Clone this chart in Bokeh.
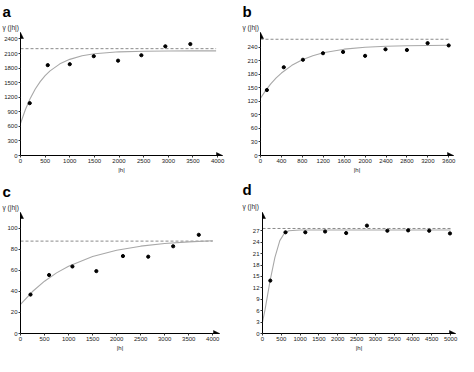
from bokeh.plotting import figure
from bokeh.layouts import column, row
from bokeh.models import Title, Arrow, NormalHead, FixedTicker
from bokeh.embed import file_html
from bokeh.resources import INLINE

# ---------------- data ----------------
# panel a
a_pts_x = [187, 553, 1000, 1487, 1980, 2453, 2940, 3447]
a_pts_y = [1078, 1861, 1880, 2045, 1953, 2065, 2249, 2295]
a_fit_x = [0, 100, 200, 300, 400, 500, 600, 800, 1000, 1250, 1500, 2000, 2500, 3000, 3500, 3970]
a_fit_y = [657, 947, 1181, 1369, 1521, 1644, 1743, 1887, 1980, 2053, 2095, 2135, 2148, 2152, 2155, 2155]
a_sill_x = [0, 3970]
a_sill_y = [2200, 2200]
a_xticks = [0, 500, 1000, 1500, 2000, 2500, 3000, 3500, 4000]
a_yticks = [0, 300, 600, 900, 1200, 1500, 1800, 2100, 2400]

# panel b
b_pts_x = [122, 445, 811, 1195, 1579, 2000, 2390, 2799, 3195, 3598]
b_pts_y = [145.3, 195.9, 212.5, 227.0, 229.9, 221.2, 235.7, 234.2, 249.4, 244.3]
b_fit_x = [0, 100, 200, 300, 400, 600, 800, 1000, 1200, 1600, 2000, 2400, 2800, 3200, 3600]
b_fit_y = [127, 144.6, 159.5, 172.2, 183.0, 200.1, 212.4, 221.4, 227.9, 236.0, 240.3, 242.5, 243.7, 244.3, 244.6]
b_sill_x = [0, 3600]
b_sill_y = [258, 258]
b_xticks = [0, 400, 800, 1200, 1600, 2000, 2400, 2800, 3200, 3600]
b_yticks = [0, 30, 60, 90, 120, 150, 180, 210, 240]

# panel c
c_pts_x = [208, 595, 1080, 1578, 2131, 2657, 3176, 3709]
c_pts_y = [37.0, 55.6, 63.7, 59.3, 73.6, 73.0, 82.9, 93.8]
c_fit_x = [0, 250, 500, 750, 1000, 1500, 2000, 2500, 3000, 3500, 4000]
c_fit_y = [27.6, 39.9, 49.7, 57.6, 64.0, 73.2, 79.2, 83.0, 85.5, 87.1, 88.1]
c_sill_x = [0, 4000]
c_sill_y = [87.8, 87.8]
c_xticks = [0, 500, 1000, 1500, 2000, 2500, 3000, 3500, 4000]
c_yticks = [0, 20, 40, 60, 80, 100]

# panel d
d_pts_x = [207, 612, 1138, 1664, 2224, 2776, 3319, 3871, 4431, 4983]
d_pts_y = [13.9, 26.6, 26.6, 26.8, 26.4, 28.35, 27.0, 27.1, 27.0, 26.3]
d_fit_x = [0, 70, 200, 330, 460, 590, 700, 1000, 2000, 3000, 4000, 5000]
d_fit_y = [3.0, 6.4, 13.8, 20.0, 24.4, 26.5, 27.0, 27.2, 27.2, 27.2, 27.2, 27.2]
d_sill_x = [0, 5000]
d_sill_y = [27.6, 27.6]
d_xticks = [0, 500, 1000, 1500, 2000, 2500, 3000, 3500, 4000, 4500, 5000]
d_yticks = [0, 3, 6, 9, 12, 15, 18, 21, 24, 27]

FONT = "Liberation Sans"


def panel(letter, px, py, fx, fy, sx, sy, xticks, yticks, xmax, ymax,
          width, height, bl, br, bt, bb, gamma_standoff, letter_standoff):
    p = figure(width=width, height=height, x_range=(0, xmax), y_range=(0, ymax),
               output_backend="svg", toolbar_location=None, title=None,
               min_border_left=bl, min_border_right=br,
               min_border_top=bt, min_border_bottom=bb)
    p.outline_line_color = None
    p.xgrid.visible = False
    p.ygrid.visible = False
    p.background_fill_color = "white"
    p.border_fill_color = "white"

    for ax in (p.xaxis[0], p.yaxis[0]):
        ax.axis_line_color = "black"
        ax.axis_line_width = 1
        ax.major_tick_line_color = "#333333"
        ax.major_tick_out = 2
        ax.major_tick_in = 0
        ax.minor_tick_line_color = None
        ax.major_label_text_font = FONT
        ax.major_label_text_font_size = "6px"
        ax.major_label_text_color = "#222222"
        ax.major_label_standoff = 1
    p.xaxis[0].ticker = FixedTicker(ticks=xticks)
    p.yaxis[0].ticker = FixedTicker(ticks=yticks)
    p.xaxis[0].axis_label = "|h|"
    p.xaxis[0].axis_label_text_font = FONT
    p.xaxis[0].axis_label_text_font_size = "6px"
    p.xaxis[0].axis_label_text_font_style = "normal"
    p.xaxis[0].axis_label_text_color = "#222222"
    p.xaxis[0].axis_label_standoff = 1

    # axis arrowheads
    p.add_layout(Arrow(end=NormalHead(size=6, fill_color="black", line_color="black", line_width=0.5),
                       x_start=xmax * 0.97, y_start=0, x_end=xmax, y_end=0,
                       line_color="black", line_width=1))
    p.add_layout(Arrow(end=NormalHead(size=6, fill_color="black", line_color="black", line_width=0.5),
                       x_start=0, y_start=ymax * 0.97, x_end=0, y_end=ymax,
                       line_color="black", line_width=1))

    # sill (dashed), fitted model (solid), experimental points
    p.line(sx, sy, line_color="#8a8a8a", line_width=1, line_dash="3 2")
    p.line(fx, fy, line_color="#a8a8a8", line_width=1.1)
    p.scatter(px, py, marker="circle", size=3.2, fill_color="black", line_color="black")

    # y label (closest to frame) and panel letter (above it)
    p.add_layout(Title(text="γ (|h|)", align="left", offset=-(bl - 2), standoff=gamma_standoff,
                       text_font=FONT, text_font_size="6.5px", text_font_style="normal",
                       text_color="#222222"), "above")
    p.add_layout(Title(text=letter, align="left", offset=-(bl - 2), standoff=letter_standoff,
                       text_font=FONT, text_font_size="15px", text_font_style="bold",
                       text_color="black"), "above")
    return p


pa = panel("a", a_pts_x, a_pts_y, a_fit_x, a_fit_y, a_sill_x, a_sill_y, a_xticks, a_yticks,
           4100, 2533, 240, 178, 20, 18, 29, 21, 4, 0)
pb = panel("b", b_pts_x, b_pts_y, b_fit_x, b_fit_y, b_sill_x, b_sill_y, b_xticks, b_yticks,
           3690, 273, 218, 178, 20, 5, 29, 23, 4, 0)
pc = panel("c", c_pts_x, c_pts_y, c_fit_x, c_fit_y, c_sill_x, c_sill_y, c_xticks, c_yticks,
           4140, 115, 240, 178, 20, 21, 32, 22, 4, 0)
pd = panel("d", d_pts_x, d_pts_y, d_fit_x, d_fit_y, d_sill_x, d_sill_y, d_xticks, d_yticks,
           5130, 31.8, 218, 178, 22, 3, 22, 23, 6, 0)

layout = column(row(pa, pb), row(pc, pd))
open("out.html", "w").write(file_html(layout, INLINE))
